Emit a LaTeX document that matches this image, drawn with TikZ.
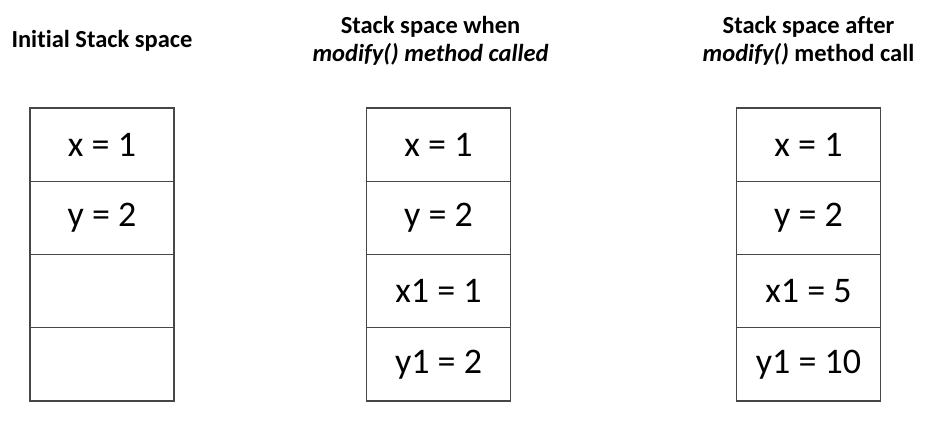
\documentclass[tikz,border=0pt]{standalone}
\usepackage{fontspec}
\setmainfont[Ligatures=NoCommon]{Carlito}
\usetikzlibrary{positioning}
\tikzset{
  cell/.style={draw=black!72, line width=1.2pt, minimum width=144pt,
    minimum height=73.25pt, inner sep=0pt, outer sep=0pt,
    font=\fontsize{36}{40}\selectfont},
  head/.style={align=center, inner sep=0pt, font=\fontsize{24.5}{28.5}\selectfont\bfseries}
}

\begin{document}
\begin{tikzpicture}[x=1pt, y=1pt]
				\useasboundingbox (0,0) rectangle (932,-437);
				% headers
				\node[head] (hinit) at (102, -41) {Initial Stack space};
				\node[head] (hcall) at (430.5, -41) {Stack space when\\\textit{modify() method called}};
				\node[head] (hafter) at (808.5, -41) {Stack space after\\\textit{modify()} method call};
				% initial stack
				\node[cell] (i1) at (102, -144.6) {x = 1};
				\node[cell, below=0pt of i1] (i2) {y = 2};
				\node[cell, below=0pt of i2] (i3) {};
				\node[cell, below=0pt of i3] (i4) {};
				% stack while modify() runs
				\node[cell] (c1) at (438.5, -144.6) {x = 1};
				\node[cell, below=0pt of c1] (c2) {y = 2};
				\node[cell, below=0pt of c2] (c3) {x1 = 1};
				\node[cell, below=0pt of c3] (c4) {y1 = 2};
				% stack after modify()
				\node[cell] (a1) at (808.5, -144.6) {x = 1};
				\node[cell, below=0pt of a1] (a2) {y = 2};
				\node[cell, below=0pt of a2] (a3) {x1 = 5};
				\node[cell, below=0pt of a3] (a4) {y1 = 10};
			\end{tikzpicture}
\end{document}
